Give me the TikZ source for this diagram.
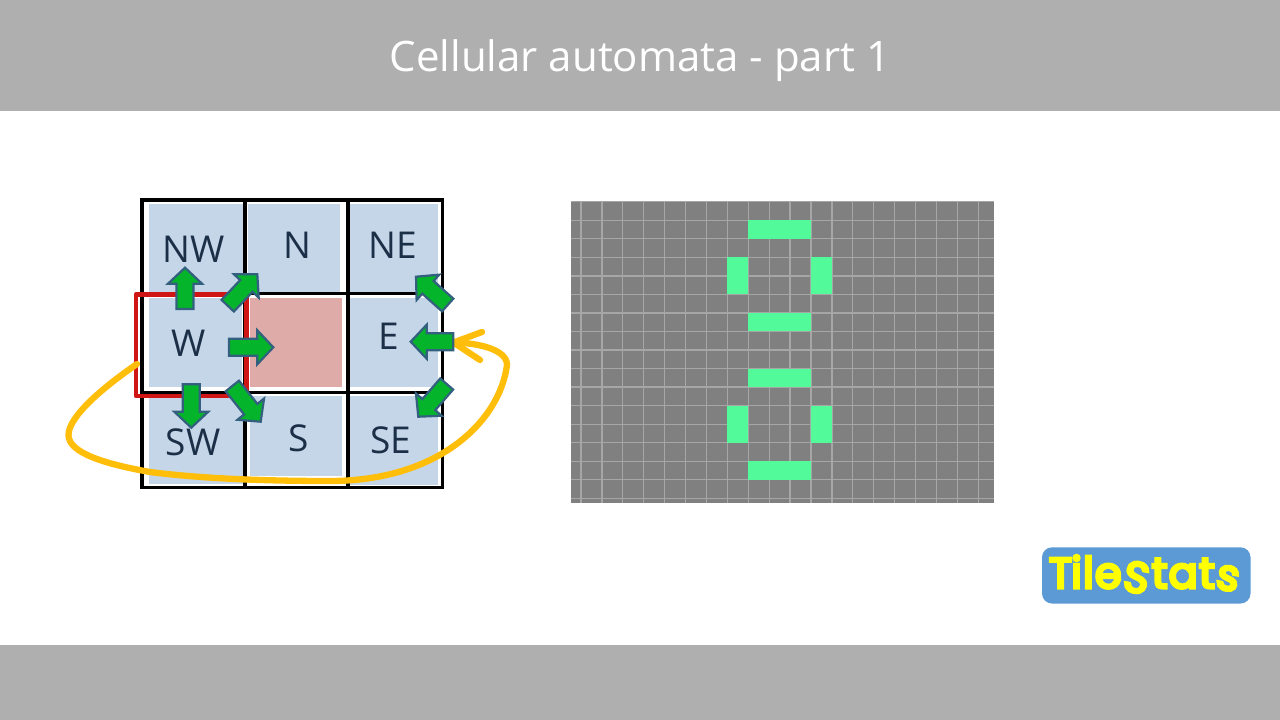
\documentclass[tikz,border=0pt]{standalone}
\usepackage{fontspec}
\usetikzlibrary{calc}
\setmainfont{Open Sans}
\newfontfamily\logofont[FakeBold=7,LetterSpace=3]{Poppins}
\definecolor{barcol}{HTML}{AFAFAF}
\definecolor{cellblue}{HTML}{C5D6E9}
\definecolor{cellpink}{HTML}{DFABA9}
\definecolor{inkcol}{HTML}{1B2F47}
\definecolor{arrowgreen}{HTML}{04B42A}
\definecolor{arrowedge}{HTML}{33607F}
\definecolor{framered}{HTML}{D01515}
\definecolor{curveyellow}{HTML}{FFBE0A}
\definecolor{gridgrey}{HTML}{808080}
\definecolor{gridline}{HTML}{A6A6A6}
\definecolor{lifegreen}{HTML}{52FA9A}
\definecolor{logoblue}{HTML}{5B9AD5}
\definecolor{logoyellow}{HTML}{FFFF00}
\tikzset{
  celllabel/.style={text=inkcol,font=\fontsize{37}{37}\selectfont,inner sep=0pt,text height=26pt,text depth=0pt,anchor=center},
  blockarrowstyle/.style={fill=arrowgreen,draw=arrowedge,line width=2.2pt,line join=miter},
  gridrule/.style={draw=black,line width=3.2pt,line cap=round},
}
\newcommand{\blockarrow}[2]{%
  \draw[blockarrowstyle]
    ($(#1)!8.5pt!90:(#2)$) --
    ($($(#2)!16pt!(#1)$)!8.5pt!-90:(#1)$) --
    ($($(#2)!16pt!(#1)$)!17pt!-90:(#1)$) --
    (#2) --
    ($($(#2)!16pt!(#1)$)!17pt!90:(#1)$) --
    ($($(#2)!16pt!(#1)$)!8.5pt!90:(#1)$) --
    ($(#1)!8.5pt!-90:(#2)$) -- cycle;}
\newcommand{\gridx}[1]{\fpeval{581+20.91*(#1)}}
\newcommand{\gridy}[1]{\fpeval{201.7+18.54*(#1)}}
\newcommand{\lifebar}[4]{\fill[lifegreen] (\gridx{#1},\gridy{#2}) rectangle (\gridx{#3},\gridy{#4});}
\begin{document}
\begin{tikzpicture}[x=1pt,y=-1pt]
\useasboundingbox (0,0) rectangle (1280,720);
\fill[white] (0,0) rectangle (1280,720);
\fill[barcol] (0,0) rectangle (1280,110.5);
\fill[barcol] (0,645) rectangle (1280,720);
\node[text=white,font=\fontsize{42}{42}\selectfont,inner sep=0pt] (title) at (640,61) {Cellular automata - part 1};
% cells
\fill[cellblue] (148.5,204) rectangle (242.5,292);
\fill[cellblue] (248,204) rectangle (340,292);
\fill[cellblue] (350,204) rectangle (438,292);
\fill[cellblue] (148.5,298) rectangle (242,387);
\fill[cellpink] (250,298) rectangle (342,387);
\fill[cellblue] (350,298) rectangle (438,387);
\fill[cellblue] (148.5,396) rectangle (244,484);
\fill[cellblue] (250,396) rectangle (342,476);
\fill[cellblue] (350,396) rectangle (438,485);
% black grid
\draw[gridrule] (142,200) rectangle (442.7,487.3);
\draw[gridrule] (245,200) -- (245,487.3);
\draw[gridrule] (348,200) -- (348,487.3);
\draw[gridrule] (142,293.5) -- (442.7,293.5);
\draw[gridrule] (142,392.3) -- (442.7,392.3);
% red frame
\draw[framered,line width=4.4pt,line join=round] (136,294.3) rectangle (246.5,396);
% labels
\node[celllabel] (nw) at (194,249) {NW};
\node[celllabel] (n) at (297,245) {N};
\node[celllabel] (ne) at (393,245) {NE};
\node[celllabel] (w) at (189,343) {W};
\node[celllabel] (e) at (389,336) {E};
\node[celllabel] (sw) at (193,442) {SW};
\node[celllabel] (s) at (299,438) {S};
\node[celllabel] (se) at (391,440) {SE};
% curve
\coordinate (cstart) at (137,364);
\coordinate (cleft) at (68.5,435);
\coordinate (cbot) at (150,472);
\coordinate (cmid) at (330,481);
\coordinate (cright) at (507,365);
\coordinate (ctip) at (453.5,342.5);
\coordinate (wingup) at (482,332);
\coordinate (wingdown) at (480,360);
\draw[curveyellow,line width=6.3pt,line cap=round,line join=round]
  (cstart) .. controls (105,386) and (68.5,416) .. (cleft)
  .. controls (68.5,453) and (105,464) .. (cbot)
  .. controls (205,479) and (270,481) .. (cmid)
  .. controls (440,481) and (500,420) .. (cright)
  .. controls (507,350) and (480,343) .. (ctip);
\draw[curveyellow,line width=6.3pt,line cap=round,line join=round] (wingup) -- (ctip) -- (wingdown);
% block arrows
\coordinate (a1t) at (185,309); \coordinate (a1h) at (185,267.7);
\coordinate (a2t) at (227.7,305.7); \coordinate (a2h) at (257.3,274.3);
\coordinate (a3t) at (229,347.3); \coordinate (a3h) at (273.3,347.3);
\coordinate (a4t) at (191.3,384.3); \coordinate (a4h) at (191.3,427.7);
\coordinate (a5t) at (232.3,386); \coordinate (a5h) at (260.7,421.7);
\coordinate (a6t) at (447.7,305); \coordinate (a6h) at (416,276.7);
\coordinate (a7t) at (453.3,341.7); \coordinate (a7h) at (410.7,341.7);
\coordinate (a8t) at (446.7,384); \coordinate (a8h) at (418.3,416.7);
\foreach \i in {1,...,8} {\blockarrow{a\i t}{a\i h}}
% life grid
\fill[gridgrey] (571,201) rectangle (994,502.7);
\foreach \k in {0,...,19} {\draw[gridline,line width=1.3pt] (\gridx{\k},201) -- (\gridx{\k},502.7);}
\foreach \k in {0,...,16} {\draw[gridline,line width=1.3pt] (571,\gridy{\k}) -- (994,\gridy{\k});}
\lifebar{8}{1}{11}{2}
\lifebar{7}{3}{8}{5}
\lifebar{11}{3}{12}{5}
\lifebar{8}{6}{11}{7}
\lifebar{8}{9}{11}{10}
\lifebar{7}{11}{8}{13}
\lifebar{11}{11}{12}{13}
\lifebar{8}{14}{11}{15}
% logo
\fill[logoblue,rounded corners=10pt] (1042,547.3) rectangle (1250.5,603.5);
\node[text=logoyellow,inner sep=0pt,font=\fontsize{43}{43}\logofont] (logo) at (1145,575) {T\kern-1pt ile\raisebox{-2pt}{\rotatebox{-10}{S}}tat\rotatebox{-10}{s}};
\end{tikzpicture}
\end{document}
